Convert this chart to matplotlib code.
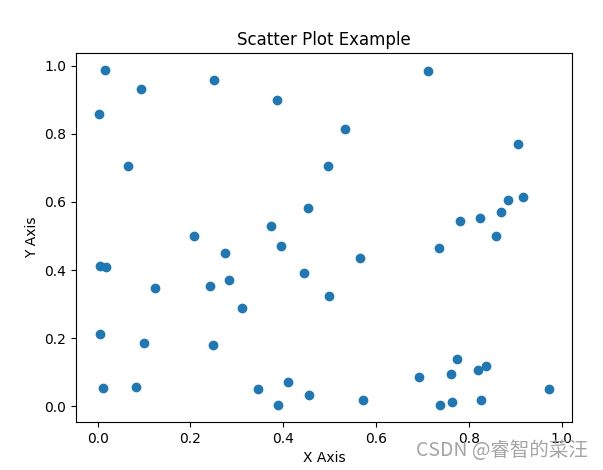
import matplotlib
matplotlib.use('Agg')
import matplotlib.pyplot as plt

x = [0.015, 0.250, 0.093, 0.713, 0.002, 0.387, 0.534, 0.065, 0.497, 0.907,
     0.454, 0.885, 0.917, 0.870, 0.781, 0.825, 0.859, 0.374, 0.208, 0.395,
     0.736, 0.566, 0.274, 0.006, 0.019, 0.445, 0.283, 0.242, 0.124, 0.498,
     0.311, 0.006, 0.099, 0.248, 0.775, 0.837, 0.820, 0.762, 0.693, 0.411,
     0.011, 0.082, 0.346, 0.974, 0.456, 0.572, 0.827, 0.765, 0.737, 0.389]
y = [0.987, 0.958, 0.932, 0.984, 0.858, 0.900, 0.815, 0.705, 0.704, 0.770,
     0.583, 0.607, 0.613, 0.569, 0.545, 0.554, 0.501, 0.530, 0.499, 0.471,
     0.466, 0.436, 0.451, 0.411, 0.408, 0.392, 0.372, 0.354, 0.346, 0.325,
     0.289, 0.213, 0.187, 0.181, 0.140, 0.119, 0.108, 0.094, 0.087, 0.070,
     0.055, 0.058, 0.050, 0.050, 0.032, 0.018, 0.018, 0.012, 0.005, 0.003]

fig = plt.figure(figsize=(6.03, 4.70), dpi=100)
ax = fig.add_axes([0.126, 0.102, 0.8226, 0.7846])
ax.scatter(x, y)
ax.set_title('Scatter Plot Example')
ax.set_xlabel('X Axis')
ax.set_ylabel('Y Axis')

# watermark
fig.text(0.975, 0.019, 'CSDN @睿智的菜汪', ha='right', va='bottom',
         fontsize=14, color='#9a9a9a', alpha=0.9,
         family=['Noto Sans CJK SC', 'DejaVu Sans'])

fig.savefig('out.png', dpi=100)
